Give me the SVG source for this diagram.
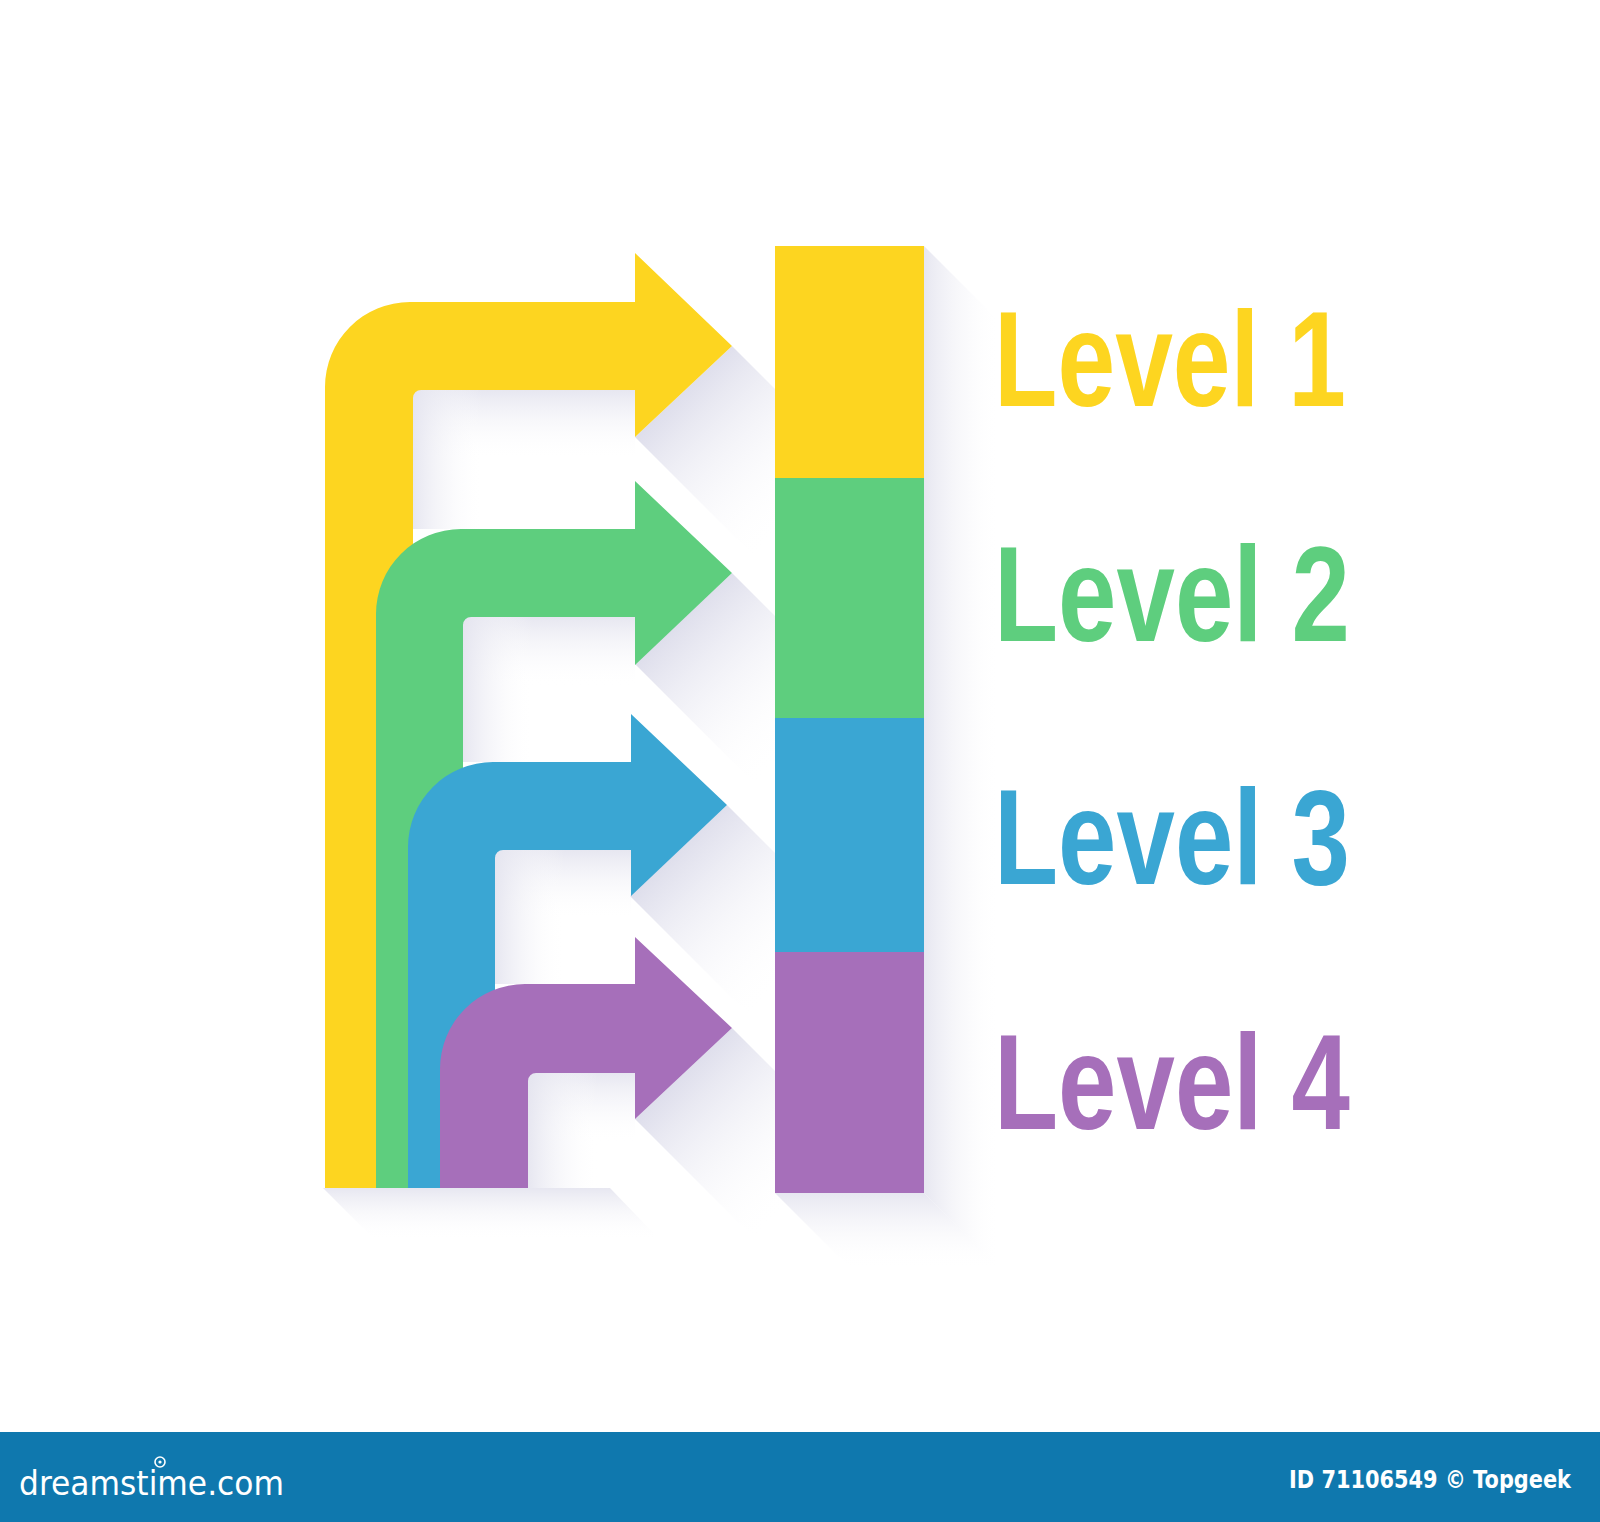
<svg xmlns="http://www.w3.org/2000/svg" width="1600" height="1522" viewBox="0 0 1600 1522">
<style>
.lvl{font-family:"Liberation Sans",Arial,sans-serif;font-weight:bold;font-size:135px}
.yel{fill:#FDD520}.grn{fill:#5ECE7E}.blu{fill:#3AA6D3}.pur{fill:#A66FBA}
.foot{font-family:"DejaVu Sans","Liberation Sans",sans-serif;fill:#FFFFFF}
</style>
<defs>
<linearGradient id="gDiag" gradientUnits="userSpaceOnUse" x1="-48" y1="45" x2="72" y2="165">
<stop offset="0" stop-color="#DDDDEB" stop-opacity="0.95"/>
<stop offset="1" stop-color="#FFFFFF" stop-opacity="0"/>
</linearGradient>
<linearGradient id="gDown" x1="0" y1="0" x2="0" y2="1">
<stop offset="0" stop-color="#E4E4EF" stop-opacity="0.9"/>
<stop offset="1" stop-color="#FFFFFF" stop-opacity="0"/>
</linearGradient>
<linearGradient id="gRight" x1="0" y1="0" x2="1" y2="0">
<stop offset="0" stop-color="#E4E4EF" stop-opacity="0.9"/>
<stop offset="1" stop-color="#FFFFFF" stop-opacity="0"/>
</linearGradient>
<polygon id="headShadow" points="0,0 140,140 43,231 -97,91" fill="url(#gDiag)"/>
</defs>
<rect width="1600" height="1522" fill="#FFFFFF"/>

<g id="shadows">
<use href="#headShadow" transform="translate(732,346)"/>
<use href="#headShadow" transform="translate(732,573)"/>
<use href="#headShadow" transform="translate(727,805)"/>
<use href="#headShadow" transform="translate(732,1028)"/>
<rect x="413" y="390" width="222" height="70" fill="url(#gDown)"/>
<rect x="413" y="390" width="70" height="139" fill="url(#gRight)"/>
<rect x="463" y="617" width="172" height="70" fill="url(#gDown)"/>
<rect x="463" y="617" width="70" height="145" fill="url(#gRight)"/>
<rect x="495" y="850" width="136" height="70" fill="url(#gDown)"/>
<rect x="495" y="850" width="70" height="134" fill="url(#gRight)"/>
<rect x="528" y="1073" width="107" height="70" fill="url(#gDown)"/>
<rect x="528" y="1073" width="70" height="115" fill="url(#gRight)"/>
<polygon points="323,1188 610,1188 660,1240 375,1240" fill="url(#gDown)"/>
<polygon points="924,246 1000,322 1000,1269 924,1193" fill="url(#gRight)"/>
<polygon points="775,1193 924,1193 1000,1269 851,1269" fill="url(#gDown)"/>
</g>

<g id="arrow-level1">
<path class="yel" d="M325,1188 V387 A85,85 0 0 1 410,302 H635 V253 L732,346 L635,437 V390 H421 A8,8 0 0 0 413,398 V1188 Z"/>
</g>
<g id="arrow-level2">
<path class="grn" d="M376,1188 V614 A85,85 0 0 1 461,529 H635 V481 L732,573 L635,665 V617 H471 A8,8 0 0 0 463,625 V1188 Z"/>
</g>
<g id="arrow-level3">
<path class="blu" d="M408,1188 V847 A85,85 0 0 1 493,762 H631 V714 L727,805 L631,896 V850 H503 A8,8 0 0 0 495,858 V1188 Z"/>
</g>
<g id="arrow-level4">
<path class="pur" d="M440,1188 V1069 A85,85 0 0 1 525,984 H635 V937 L732,1028 L635,1119 V1073 H536 A8,8 0 0 0 528,1081 V1188 Z"/>
</g>

<g id="bar">
<rect class="yel" x="775" y="246" width="149" height="232"/>
<rect class="grn" x="775" y="478" width="149" height="240"/>
<rect class="blu" x="775" y="718" width="149" height="234"/>
<rect class="pur" x="775" y="952" width="149" height="241"/>
</g>

<g id="labels">
<text class="lvl yel" x="994" y="406" textLength="352" lengthAdjust="spacingAndGlyphs">Level 1</text>
<text class="lvl grn" x="994" y="641" textLength="356" lengthAdjust="spacingAndGlyphs">Level 2</text>
<text class="lvl blu" x="994" y="884" textLength="356" lengthAdjust="spacingAndGlyphs">Level 3</text>
<text class="lvl pur" x="994" y="1129" textLength="356" lengthAdjust="spacingAndGlyphs">Level 4</text>
</g>

<g id="footer">
<rect x="0" y="1432" width="1600" height="90" fill="#0F78AE"/>
<text class="foot" x="19" y="1495" font-size="34" textLength="265" lengthAdjust="spacingAndGlyphs">dreamstime.com</text>
<circle cx="160" cy="1462" r="5" fill="none" stroke="#FFFFFF" stroke-width="1.6"/>
<circle cx="160" cy="1462" r="1.6" fill="#FFFFFF"/>
<text class="foot" x="1289" y="1488" font-size="25" font-weight="600" font-family="Open Sans, Liberation Sans, sans-serif" textLength="282" lengthAdjust="spacingAndGlyphs">ID 71106549 © Topgeek</text>
</g>
</svg>
